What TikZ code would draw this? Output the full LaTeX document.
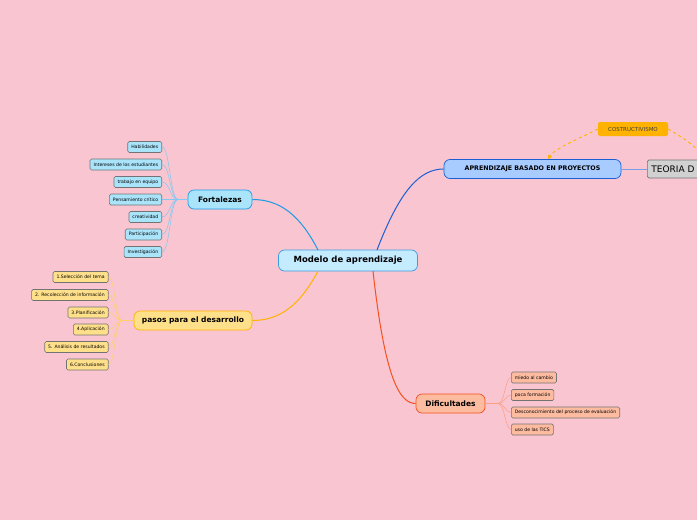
\documentclass[tikz,border=0pt]{standalone}
\usepackage{fontspec}
\setmainfont{DejaVu Sans}
\usetikzlibrary{arrows.meta}
\definecolor{bg}{HTML}{F9C5D0}
\definecolor{fb}{HTML}{A9E4FB}\definecolor{fl}{HTML}{1B9BE6}
\definecolor{pb}{HTML}{FFE08A}\definecolor{pl}{HTML}{FFB300}
\definecolor{ab}{HTML}{A8CCFF}\definecolor{al}{HTML}{1A5FD6}
\definecolor{db}{HTML}{FDBBA0}\definecolor{dl}{HTML}{F4511E}
\definecolor{cb}{HTML}{C5EBFF}\definecolor{cl}{HTML}{3C9BE0}
\tikzset{
 mainbox/.style={draw,rounded corners=6pt,line width=0.7pt,font=\fontsize{7.5}{8}\selectfont\bfseries,minimum height=19pt,inner xsep=6pt},
 leaf/.style={draw=black!55,rounded corners=1.5pt,line width=0.6pt,font=\fontsize{4.6}{5}\selectfont,minimum height=11pt,inner xsep=3.5pt,inner ysep=1pt},
 conn/.style={line width=1pt},
 lconn/.style={line width=0.5pt},
}
\begin{document}
\begin{tikzpicture}[x=1pt,y=-1pt]
\clip (0,0) rectangle (697,520);
\fill[bg] (0,0) rectangle (697,520);
\node[mainbox,fill=cb,draw=cl,minimum width=139pt,minimum height=21pt,font=\fontsize{8.5}{9}\selectfont\bfseries] (c) at (348,260.5) {Modelo de aprendizaje};
\node[mainbox,fill=fb,draw=fl,minimum width=64pt] (f) at (220,199.5) {Fortalezas};
\node[mainbox,fill=pb,draw=pl,minimum width=118pt] (p) at (193,320.5) {pasos para el desarrollo};
\node[mainbox,fill=ab,draw=al,minimum width=177pt,font=\fontsize{6.3}{7}\selectfont\bfseries] (a) at (532.5,169) {APRENDIZAJE BASADO EN PROYECTOS};
\node[mainbox,fill=db,draw=dl,minimum width=69pt] (d) at (450.5,403.5) {Dificultades};
\node[draw=black!55,fill=black!18,rounded corners=1.5pt,line width=0.7pt,anchor=west,minimum height=18pt,font=\fontsize{9}{10}\selectfont,inner xsep=4pt,text width=60pt] (t) at (647,169) {TEORIA D};
\node[fill=pl,rounded corners=2pt,font=\fontsize{5.5}{6}\selectfont,text=black!75,minimum height=14pt,minimum width=70pt] (k) at (633,129) {COSTRUCTIVISMO};
\coordinate (koff) at (700,152);
\draw[pl,dashed,line width=0.9pt,-{Triangle[length=4pt,width=4pt]}] (k.west) .. controls (585,136) and (555,148) .. (a.north -| 548,0);
\draw[pl,dashed,line width=0.9pt] (k.east) .. controls (680,136) and (690,142) .. (koff);
\draw[al!60,line width=0.6pt] (a.east) -- (t.west);
% main connectors
\draw[conn,fl] (318,250) .. controls (300,215) and (280,199.5) .. (f.east);
\draw[conn,al] (377,250) .. controls (400,190) and (420,169) .. (a.west);
\draw[conn,pl] (318,271) .. controls (300,305) and (280,320.5) .. (p.east);
\draw[conn,dl] (373,271) .. controls (385,380) and (400,403.5) .. (d.west);
% fortalezas leaves
\foreach \n/\y/\t in {f1/147/Habilidades,f2/164.5/Intereses de los estudiantes,f3/182/trabajo en equipo,f4/199.5/Pensamiento crítico,f5/217/creatividad,f6/234.5/Participación,f7/252/Investigación}{
 \node[leaf,fill=fb,anchor=east] (\n) at (162,\y) {\t};
 \draw[lconn,fl!55] (f.west) -- (178,199.5) .. controls (170,199.5) and (170,\y) .. (\n.east);
}
\foreach \n/\y/\t in {p1/277/1.Selección del tema,p2/295/2. Recolección de información,p3/312.5/3.Planificación,p4/329.5/4.Aplicación,p5/347/5. Análisis de resultados,p6/364.5/6.Conclusiones}{
 \node[leaf,fill=pb,anchor=east] (\n) at (108.5,\y) {\t};
 \draw[lconn,pl!60] (p.west) -- (122,320.5) .. controls (115,320.5) and (115,\y) .. (\n.east);
}
\foreach \n/\y/\t in {d1/377.5/miedo al cambio,d2/395/poca formación,d3/412.5/Desconocimiento del proceso de evaluación,d4/429.5/uso de las TICS}{
 \node[leaf,fill=db,anchor=west] (\n) at (511,\y) {\t};
 \draw[lconn,dl!55] (d.east) -- (498,403.5) .. controls (505,403.5) and (505,\y) .. (\n.west);
}
\end{tikzpicture}
\end{document}
